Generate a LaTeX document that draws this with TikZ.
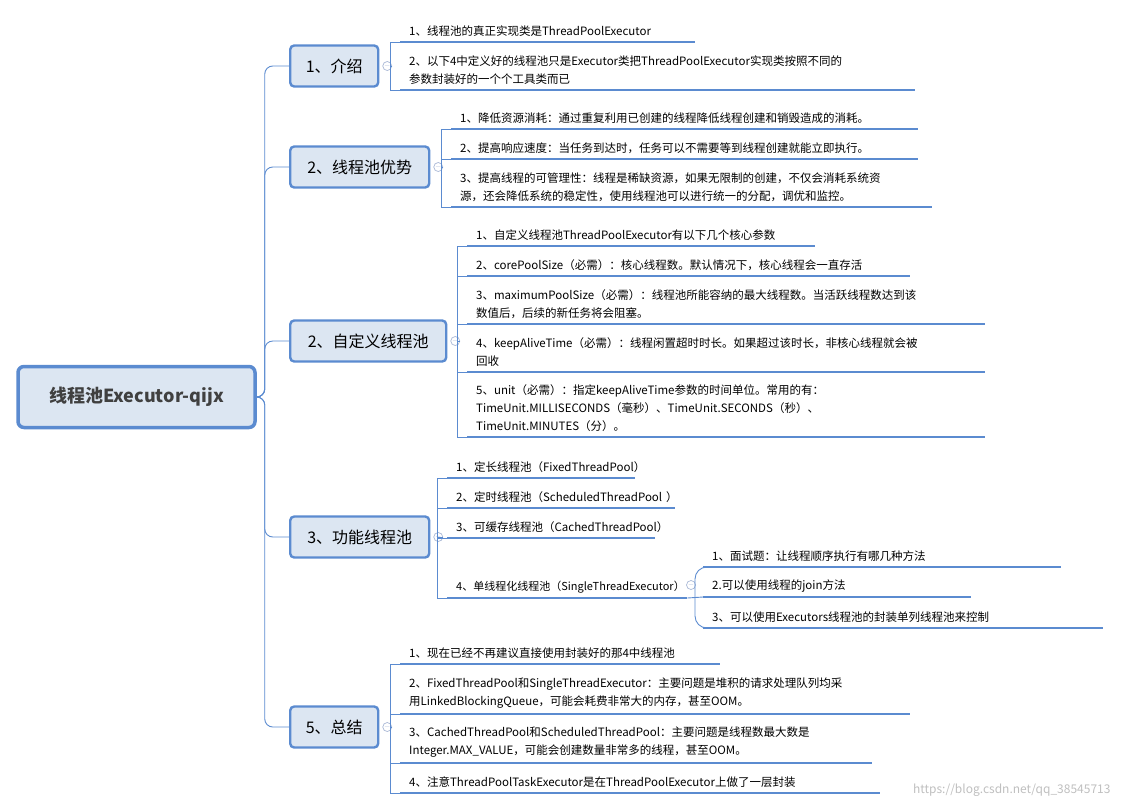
\documentclass[tikz,border=0pt]{standalone}
\usepackage{fontspec}
\setmainfont{Noto Sans CJK SC}
\usetikzlibrary{positioning}
\definecolor{mapblue}{HTML}{5B8BD0}
\definecolor{mapfill}{HTML}{DCE6F2}
\definecolor{ringgray}{HTML}{A9B8D6}
\tikzset{
  link/.style={draw=mapblue, line width=0.9pt},
  uline/.style={draw=mapblue, line width=2.6pt},
  topic/.style={rectangle, rounded corners=4pt, draw=mapblue, line width=2.4pt, fill=mapfill, anchor=west, minimum height=41pt, inner xsep=12pt, font=\fontsize{16}{18}\selectfont},
  leaf/.style={anchor=south west, align=left, inner xsep=9pt, inner ysep=5pt, font=\fontsize{11.5}{18}\selectfont},
  ring/.style={circle, draw=ringgray, line width=0.7pt, fill=white, minimum size=9pt, inner sep=0pt, font=\fontsize{7}{7}\selectfont\color{ringgray}}
}
\begin{document}
\begin{tikzpicture}[x=1pt, y=-1pt]
  \useasboundingbox (0,0) rectangle (1121,809);
  \node (root) [rectangle, rounded corners=6pt, draw=mapblue, line width=3.5pt, fill=mapfill, minimum width=237pt, minimum height=61pt, font=\fontsize{18}{20}\selectfont\bfseries, text=black!75] at (136.5,397) {线程池Executor-qijx};

  % main topics
  \node (intro) [topic, minimum width=88pt] at (289,66) {1、介绍};
  \node (merit) [topic, minimum width=139pt] at (289,167) {2、线程池优势};
  \node (custom) [topic, minimum width=156pt] at (289,341) {2、自定义线程池};
  \node (kinds) [topic, minimum width=139pt] at (289,537) {3、功能线程池};
  \node (summary) [topic, minimum width=88pt] at (289,727) {5、总结};

  \foreach \t in {intro, merit, custom, kinds, summary}
    \draw [link, rounded corners=8pt] (root.east) -- ++(8,0) |- (\t.west);

  \foreach \t in {intro, merit, custom, kinds, summary}
    \node (\t-ring) [ring, right=3pt of \t] {$-$};

  % 1 intro
  \node (intro-a) [leaf, text width=277pt] at (400,42) {1、线程池的真正实现类是ThreadPoolExecutor};
  \node (intro-b) [leaf, text width=497pt] at (400,90) {2、以下4中定义好的线程池只是Executor类把ThreadPoolExecutor实现类按照不同的\\参数封装好的一个个工具类而已};
  \coordinate (intro-k) at (390,66);

  % 2 merit
  \node (merit-a) [leaf, text width=449pt] at (451,129) {1、降低资源消耗：通过重复利用已创建的线程降低线程创建和销毁造成的消耗。};
  \node (merit-b) [leaf, text width=449pt] at (451,159) {2、提高响应速度：当任务到达时，任务可以不需要等到线程创建就能立即执行。};
  \node (merit-c) [leaf, text width=463pt] at (451,207) {3、提高线程的可管理性：线程是稀缺资源，如果无限制的创建，不仅会消耗系统资\\源，还会降低系统的稳定性，使用线程池可以进行统一的分配，调优和监控。};
  \coordinate (merit-k) at (441,167);

  % 3 custom
  \node (custom-a) [leaf, text width=330pt] at (467,246) {1、自定义线程池ThreadPoolExecutor有以下几个核心参数};
  \node (custom-b) [leaf, text width=425pt] at (467,276) {2、corePoolSize（必需）：核心线程数。默认情况下，核心线程会一直存活};
  \node (custom-c) [leaf, text width=500pt] at (467,324) {3、maximumPoolSize（必需）：线程池所能容纳的最大线程数。当活跃线程数达到该\\数值后，后续的新任务将会阻塞。};
  \node (custom-d) [leaf, text width=500pt] at (467,372) {4、keepAliveTime（必需）：线程闲置超时时长。如果超过该时长，非核心线程就会被\\回收};
  \node (custom-e) [leaf, text width=500pt] at (467,437) {5、unit（必需）：指定keepAliveTime参数的时间单位。常用的有：\\TimeUnit.MILLISECONDS（毫秒）、TimeUnit.SECONDS（秒）、\\TimeUnit.MINUTES（分）。};
  \coordinate (custom-k) at (457,341);

  % 4 kinds
  \node (kinds-a) [leaf, text width=170pt] at (447,478) {1、定长线程池（FixedThreadPool）};
  \node (kinds-b) [leaf, text width=210pt] at (447,508) {2、定时线程池（ScheduledThreadPool~）};
  \node (kinds-c) [leaf, text width=190pt] at (447,538) {3、可缓存线程池（CachedThreadPool）};
  \node (kinds-d) [leaf, text width=222pt, font=\fontsize{11}{18}\selectfont] at (447,598) {4、单线程化线程池（SingleThreadExecutor）};
  \coordinate (kinds-k) at (437,537);
  \node (single-ring) [ring] at (691,585) {$-$};
  \node (single-a) [leaf, text width=340pt] at (703,567) {1、面试题：让线程顺序执行有哪几种方法};
  \node (single-b) [leaf, text width=250pt] at (703,597) {2.可以使用线程的join方法};
  \node (single-c) [leaf, text width=382pt] at (703,628) {3、可以使用Executors线程池的封装单列线程池来控制};

  % 5 summary
  \node (summary-a) [leaf, text width=302pt] at (400,664) {1、现在已经不再建议直接使用封装好的那4中线程池};
  \node (summary-b) [leaf, text width=492pt] at (400,714) {2、FixedThreadPool和SingleThreadExecutor：主要问题是堆积的请求处理队列均采\\用LinkedBlockingQueue，可能会耗费非常大的内存，甚至OOM。};
  \node (summary-c) [leaf, text width=454pt] at (400,763) {3、CachedThreadPool和ScheduledThreadPool：主要问题是线程数最大数是\\Integer.MAX\_VALUE，可能会创建数量非常多的线程，甚至OOM。};
  \node (summary-d) [leaf, text width=462pt] at (400,793) {4、注意ThreadPoolTaskExecutor是在ThreadPoolExecutor上做了一层封装};
  \coordinate (summary-k) at (390,727);

  % brackets
  \foreach \t/\first/\last in {intro/a/b, merit/a/c, custom/a/e, kinds/a/d, summary/a/d} {
    \draw [link] (\t-ring.east) -- (\t-k);
    \draw [link] (\t-\first.south west) -- (\t-\first.south west -| \t-k) -- (\t-\last.south west -| \t-k) -- (\t-\last.south west);
  }
  \draw [link] (merit-b.south west) -- (merit-b.south west -| merit-k);
  \draw [link] (custom-b.south west) -- (custom-b.south west -| custom-k);
  \draw [link] (custom-c.south west) -- (custom-c.south west -| custom-k);
  \draw [link] (custom-d.south west) -- (custom-d.south west -| custom-k);
  \draw [link] (kinds-b.south west) -- (kinds-b.south west -| kinds-k);
  \draw [link] (kinds-c.south west) -- (kinds-c.south west -| kinds-k);
  \draw [link] (summary-b.south west) -- (summary-b.south west -| summary-k);
  \draw [link] (summary-c.south west) -- (summary-c.south west -| summary-k);
  \draw [link] (kinds-d.south east) -- (single-b.south west);
  \draw [link, rounded corners=12pt] (single-a.south west) -- ++(-8,0) |- (single-c.south west);

  % underlines
  \foreach \l in {intro-a, intro-b, merit-a, merit-b, merit-c, custom-a, custom-b, custom-c, custom-d, custom-e, kinds-a, kinds-b, kinds-c, kinds-d, single-a, single-b, single-c, summary-a, summary-b, summary-c, summary-d}
    \draw [uline] (\l.south west) -- (\l.south east);

  \node (mark) [anchor=east, text=black!25, font=\fontsize{12}{14}\selectfont] at (1114,790) {https://blog.csdn.net/qq\_38545713};
\end{tikzpicture}
\end{document}
